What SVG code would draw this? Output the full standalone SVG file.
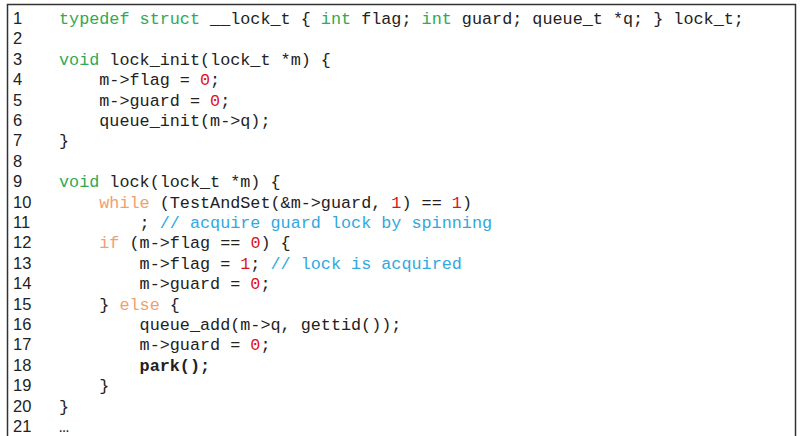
<svg xmlns="http://www.w3.org/2000/svg" width="800" height="436" viewBox="0 0 800 436">
<style>
.n{font-family:"Liberation Sans",Arial,sans-serif;font-size:16.5px;fill:#222}
.c{font-family:"Liberation Mono","Courier New",monospace;font-size:16.8px;fill:#222;white-space:pre}
.k{fill:#2eaa55}.o{fill:#f0a070}.r{fill:#e01020}.b{fill:#30a8e0}.bold{font-weight:bold}
</style>
<rect width="800" height="436" fill="#fff"/>
<path d="M7.5,440 V4.5 H795.5 V440" fill="none" stroke="#333" stroke-width="1.5"/>
<g id="code" xml:space="preserve">
<text class="n" x="13" y="24">1</text><text class="c" x="59" y="24"><tspan class="k">typedef struct</tspan> __lock_t { <tspan class="k">int</tspan> flag; <tspan class="k">int</tspan> guard; queue_t *q; } lock_t;</text>
<text class="n" x="13" y="44.4">2</text>
<text class="n" x="13" y="64.8">3</text><text class="c" x="59" y="64.8"><tspan class="k">void</tspan> lock_init(lock_t *m) {</text>
<text class="n" x="13" y="85.2">4</text><text class="c" x="59" y="85.2">    m-&gt;flag = <tspan class="r">0</tspan>;</text>
<text class="n" x="13" y="105.6">5</text><text class="c" x="59" y="105.6">    m-&gt;guard = <tspan class="r">0</tspan>;</text>
<text class="n" x="13" y="126">6</text><text class="c" x="59" y="126">    queue_init(m-&gt;q);</text>
<text class="n" x="13" y="146.4">7</text><text class="c" x="59" y="146.4">}</text>
<text class="n" x="13" y="166.8">8</text>
<text class="n" x="13" y="187.2">9</text><text class="c" x="59" y="187.2"><tspan class="k">void</tspan> lock(lock_t *m) {</text>
<text class="n" x="13" y="207.6">10</text><text class="c" x="59" y="207.6">    <tspan class="o">while</tspan> (TestAndSet(&amp;m-&gt;guard, <tspan class="r">1</tspan>) == <tspan class="r">1</tspan>)</text>
<text class="n" x="13" y="228">11</text><text class="c" x="59" y="228">        ; <tspan class="b">// acquire guard lock by spinning</tspan></text>
<text class="n" x="13" y="248.4">12</text><text class="c" x="59" y="248.4">    <tspan class="o">if</tspan> (m-&gt;flag == <tspan class="r">0</tspan>) {</text>
<text class="n" x="13" y="268.8">13</text><text class="c" x="59" y="268.8">        m-&gt;flag = <tspan class="r">1</tspan>; <tspan class="b">// lock is acquired</tspan></text>
<text class="n" x="13" y="289.2">14</text><text class="c" x="59" y="289.2">        m-&gt;guard = <tspan class="r">0</tspan>;</text>
<text class="n" x="13" y="309.6">15</text><text class="c" x="59" y="309.6">    } <tspan class="o">else</tspan> {</text>
<text class="n" x="13" y="330">16</text><text class="c" x="59" y="330">        queue_add(m-&gt;q, gettid());</text>
<text class="n" x="13" y="350.4">17</text><text class="c" x="59" y="350.4">        m-&gt;guard = <tspan class="r">0</tspan>;</text>
<text class="n" x="13" y="370.8">18</text><text class="c" x="59" y="370.8">        <tspan class="bold">park();</tspan></text>
<text class="n" x="13" y="391.2">19</text><text class="c" x="59" y="391.2">    }</text>
<text class="n" x="13" y="411.6">20</text><text class="c" x="59" y="411.6">}</text>
<text class="n" x="13" y="432">21</text><text class="c" x="59" y="432">…</text>
</g>
</svg>
